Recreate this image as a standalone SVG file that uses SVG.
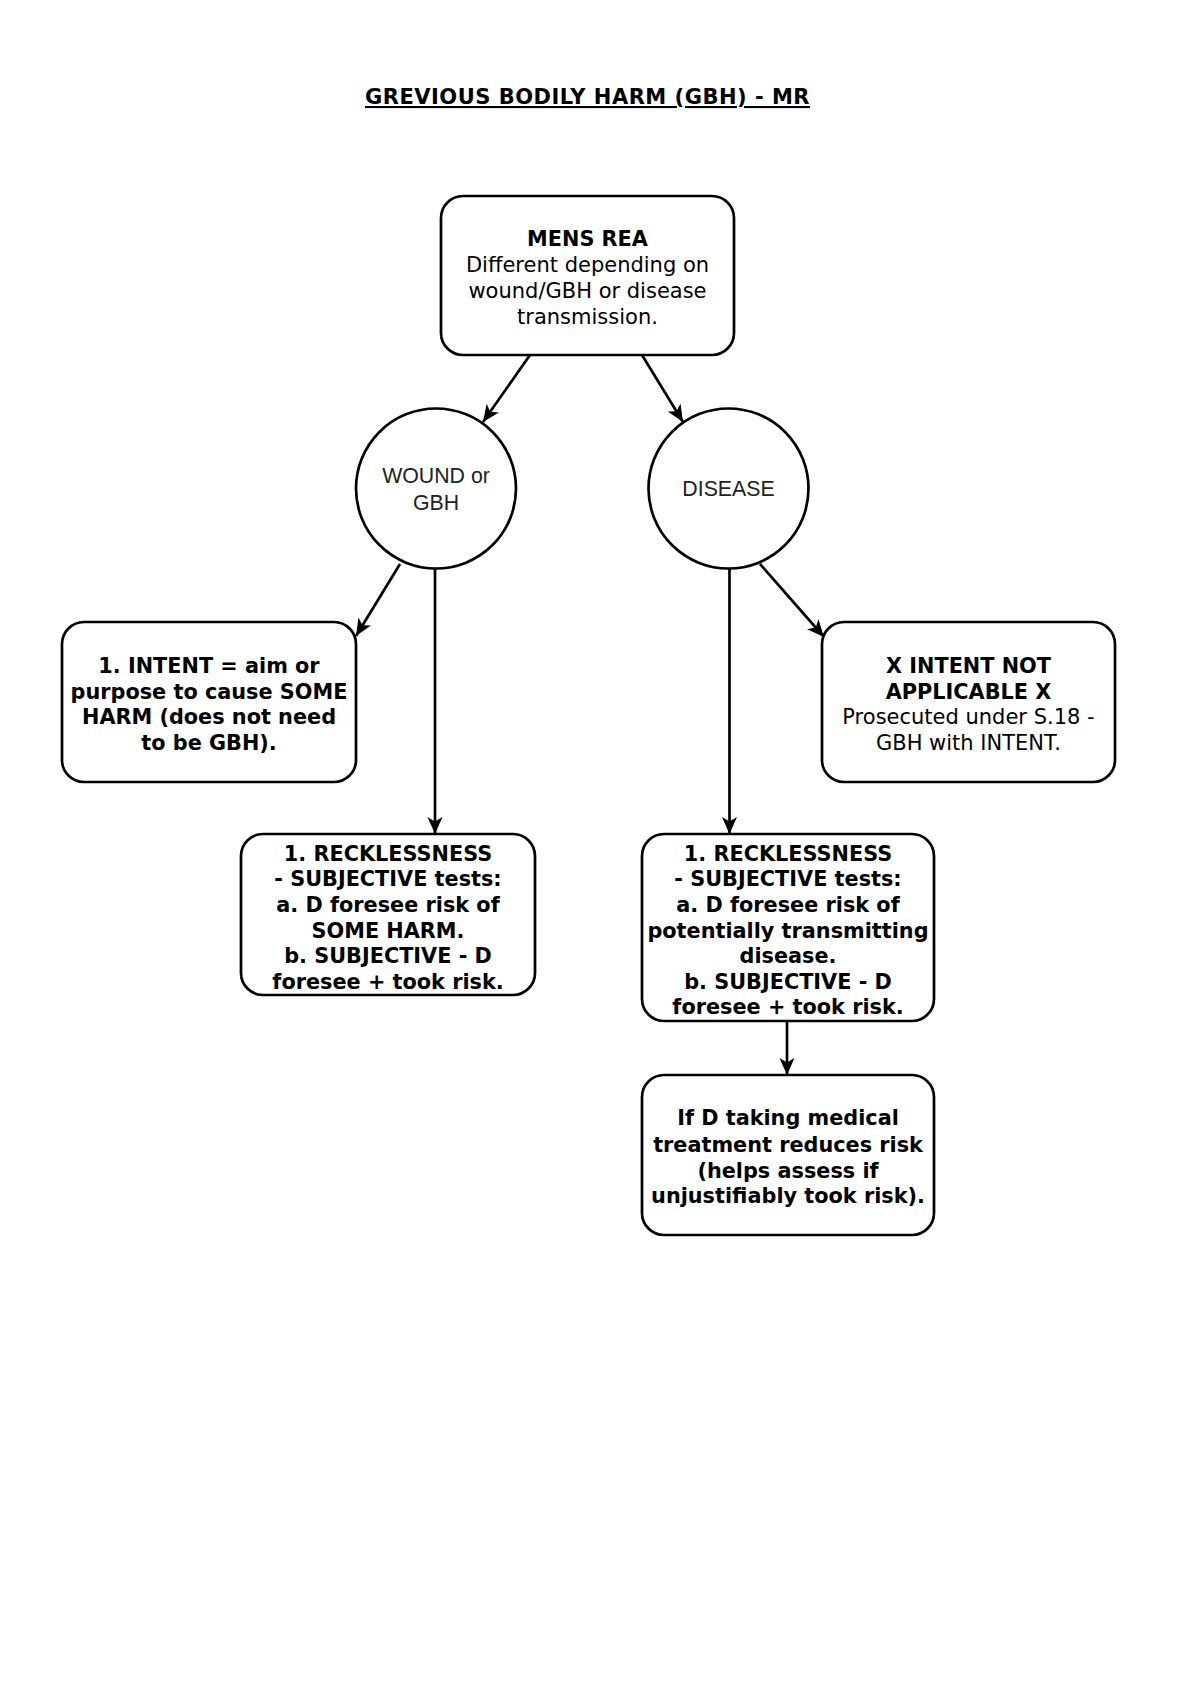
<svg xmlns="http://www.w3.org/2000/svg" width="1200" height="1686" viewBox="0 0 1200 1686">
<style>
.box{fill:#fff;stroke:#000;stroke-width:2.7}
.circ{fill:#fff;stroke:#000;stroke-width:2.7}
.conn{fill:none;stroke:#000;stroke-width:2.7}
.b{font-family:"DejaVu Sans",Verdana,sans-serif;font-weight:bold;font-size:20.8px;fill:#000;text-anchor:middle}
.r{font-family:"DejaVu Sans",Verdana,sans-serif;font-size:21px;fill:#000;text-anchor:middle}
.c{font-family:"Liberation Sans",Arial,sans-serif;font-size:21.3px;fill:#222;text-anchor:middle}
.title{font-family:"DejaVu Sans",Verdana,sans-serif;font-weight:bold;font-size:21px;letter-spacing:0.5px;fill:#000;text-anchor:middle;text-decoration:underline}
</style>
<defs>
<marker id="arr" markerUnits="userSpaceOnUse" markerWidth="18" markerHeight="16" refX="17" refY="7.5" orient="auto">
<path d="M0,0 L17,7.5 L0,15 L4.5,7.5 z" fill="#000"/>
</marker>
</defs>
<rect width="1200" height="1686" fill="#fff"/>
<text class="title" x="587.5" y="104">GREVIOUS BODILY HARM (GBH) - MR</text>

<g id="connectors">
<line class="conn" x1="530" y1="355" x2="483" y2="422" marker-end="url(#arr)"/>
<line class="conn" x1="642" y1="355" x2="683" y2="422" marker-end="url(#arr)"/>
<line class="conn" x1="400" y1="564" x2="356" y2="636" marker-end="url(#arr)"/>
<line class="conn" x1="435" y1="568.5" x2="435" y2="834" marker-end="url(#arr)"/>
<line class="conn" x1="760" y1="564" x2="824" y2="637" marker-end="url(#arr)"/>
<line class="conn" x1="729.5" y1="568.5" x2="729.5" y2="834" marker-end="url(#arr)"/>
<line class="conn" x1="787" y1="1021" x2="787" y2="1075" marker-end="url(#arr)"/>
</g>

<g id="mens-rea">
<rect class="box" x="441" y="196" width="293" height="159" rx="22" ry="22"/>
<text class="b" x="587.5" y="245.5">MENS REA</text>
<text class="r" x="587.5" y="271.5">Different depending on</text>
<text class="r" x="587.5" y="298">wound/GBH or disease</text>
<text class="r" x="587.5" y="323.5">transmission.</text>
</g>

<g id="wound">
<circle class="circ" cx="436" cy="488.5" r="80"/>
<text class="c" x="436" y="483">WOUND or</text>
<text class="c" x="436" y="510">GBH</text>
</g>

<g id="disease">
<circle class="circ" cx="728.5" cy="488.5" r="80"/>
<text class="c" x="728.5" y="496">DISEASE</text>
</g>

<g id="intent">
<rect class="box" x="62" y="622" width="294" height="160" rx="22" ry="22"/>
<text class="b" x="209" y="672.5">1. INTENT = aim or</text>
<text class="b" x="209" y="698.5">purpose to cause SOME</text>
<text class="b" x="209" y="723.5">HARM (does not need</text>
<text class="b" x="209" y="749.5">to be GBH).</text>
</g>

<g id="intent-not-applicable">
<rect class="box" x="822" y="622" width="293" height="160" rx="22" ry="22"/>
<text class="b" x="968.5" y="672.5">X INTENT NOT</text>
<text class="b" x="968.5" y="698.5">APPLICABLE X</text>
<text class="r" x="968.5" y="723.5">Prosecuted under S.18 -</text>
<text class="r" x="968.5" y="749.5">GBH with INTENT.</text>
</g>

<g id="recklessness-wound">
<rect class="box" x="241" y="834" width="294" height="161" rx="22" ry="22"/>
<text class="b" x="388" y="860.5">1. RECKLESSNESS</text>
<text class="b" x="388" y="885.5">- SUBJECTIVE tests:</text>
<text class="b" x="388" y="911.5">a. D foresee risk of</text>
<text class="b" x="388" y="937.5">SOME HARM.</text>
<text class="b" x="388" y="963">b. SUBJECTIVE - D</text>
<text class="b" x="388" y="988.5">foresee + took risk.</text>
</g>

<g id="recklessness-disease">
<rect class="box" x="642" y="834" width="292" height="187" rx="22" ry="22"/>
<text class="b" x="788" y="860.5">1. RECKLESSNESS</text>
<text class="b" x="788" y="885.5">- SUBJECTIVE tests:</text>
<text class="b" x="788" y="911.5">a. D foresee risk of</text>
<text class="b" x="788" y="937.5">potentially transmitting</text>
<text class="b" x="788" y="963">disease.</text>
<text class="b" x="788" y="988.5">b. SUBJECTIVE - D</text>
<text class="b" x="788" y="1013.5">foresee + took risk.</text>
</g>

<g id="medical-treatment">
<rect class="box" x="642" y="1075" width="292" height="160" rx="22" ry="22"/>
<text class="b" x="788" y="1124.5">If D taking medical</text>
<text class="b" x="788" y="1151.5">treatment reduces risk</text>
<text class="b" x="788" y="1177.5">(helps assess if</text>
<text class="b" x="788" y="1202.5">unjustifiably took risk).</text>
</g>
</svg>
